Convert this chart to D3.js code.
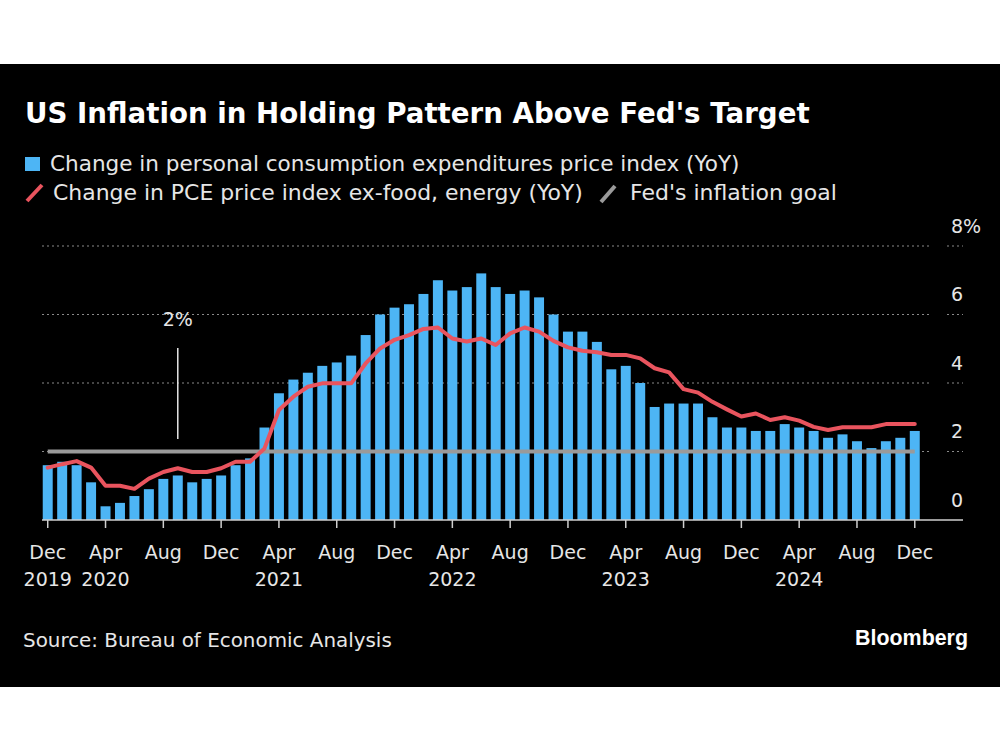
<!DOCTYPE html>
<html>
<head>
<meta charset="utf-8">
<script src="https://cdn.jsdelivr.net/npm/d3@7"></script>
<style>
  body { margin: 0; background: #fff; }
  svg text { font-family: "DejaVu Sans", sans-serif; fill: #e6e6e6; }
</style>
</head>
<body>
<div id="chart"></div>
<script>
// months Dec 2019 .. Dec 2024
var months = d3.timeMonth.range(new Date(2019, 11, 1), new Date(2025, 0, 1));

// headline PCE, YoY %
var pce = [1.6, 1.7, 1.6, 1.1, 0.4, 0.5, 0.7, 0.9, 1.2, 1.3, 1.1, 1.2, 1.3, 1.6, 1.8, 2.7, 3.7, 4.1, 4.3, 4.5, 4.6, 4.8,
           5.4, 6.0, 6.2, 6.3, 6.6, 7.0, 6.7, 6.8, 7.2, 6.8, 6.6, 6.7, 6.5, 6.0, 5.5, 5.5, 5.2, 4.4, 4.5, 4.0, 3.3,
           3.4, 3.4, 3.4, 3.0, 2.7, 2.7, 2.6, 2.6, 2.8, 2.7, 2.6, 2.4, 2.5, 2.3, 2.1, 2.3, 2.4, 2.6];

// core PCE (ex-food, energy), YoY %
var core = [1.53, 1.63, 1.72, 1.53, 1.0, 1.0, 0.91, 1.21, 1.4, 1.51, 1.4, 1.4, 1.51, 1.7, 1.7, 2.09, 3.21, 3.6, 3.89, 3.99, 3.99, 3.99,
            4.57, 5.01, 5.26, 5.4, 5.58, 5.62, 5.3, 5.21, 5.3, 5.11, 5.45, 5.62, 5.5, 5.23, 5.04, 4.94, 4.9, 4.82, 4.82, 4.72, 4.43,
            4.31, 3.82, 3.72, 3.45, 3.23, 3.02, 3.11, 2.92, 3.0, 2.9, 2.72, 2.63, 2.71, 2.71, 2.71, 2.8, 2.8, 2.8];

var fedGoal = 2;
var yTicks = [0, 2, 4, 6, 8];
var xTickEvery = 4;
var annotMonth = 9; // Sep 2020 index, "2%" label

var title = "US Inflation in Holding Pattern Above Fed's Target";
var legendLabels = ["Change in personal consumption expenditures price index (YoY)",
                    "Change in PCE price index ex-food, energy (YoY)",
                    "Fed's inflation goal"];
var source = "Source: Bureau of Economic Analysis";

var BLUE = "#4db5f5", RED = "#e9545e", GREY = "#9a9a9a";

var width = 1000, height = 750;

var svg = d3.select("#chart").append("svg")
    .attr("width", width)
    .attr("height", height);

svg.append("rect")
    .attr("x", 0).attr("y", 64)
    .attr("width", width).attr("height", 623)
    .attr("fill", "#000");

// fit a text element to a target width
function fit(sel, w) {
    var cur = sel.node().getComputedTextLength();
    var fs = parseFloat(sel.attr("font-size"));
    sel.attr("font-size", fs * w / cur);
}

var t = svg.append("text")
    .attr("x", 25).attr("y", 123)
    .attr("font-size", 26)
    .attr("font-weight", "bold")
    .style("fill", "#fff")
    .text(title);
fit(t, 785);

// legend
svg.append("rect")
    .attr("x", 25).attr("y", 157)
    .attr("width", 15).attr("height", 14)
    .attr("fill", BLUE);
var l1 = svg.append("text")
    .attr("x", 50).attr("y", 171)
    .attr("font-size", 20)
    .text(legendLabels[0]);
fit(l1, 690);

svg.append("line")
    .attr("x1", 27).attr("y1", 201).attr("x2", 42).attr("y2", 185)
    .attr("stroke", RED).attr("stroke-width", 4);
var l2 = svg.append("text")
    .attr("x", 53).attr("y", 200)
    .attr("font-size", 20)
    .text(legendLabels[1]);
fit(l2, 530);

svg.append("line")
    .attr("x1", 601).attr("y1", 202).attr("x2", 615).attr("y2", 186)
    .attr("stroke", GREY).attr("stroke-width", 4);
var l3 = svg.append("text")
    .attr("x", 630).attr("y", 200)
    .attr("font-size", 20)
    .text(legendLabels[2]);
fit(l3, 207);

// scales
var x = d3.scaleBand()
    .domain(months)
    .range([40.5, 922])
    .paddingInner(0.31)
    .paddingOuter(0.155);

var y = d3.scaleLinear()
    .domain([0, 8])
    .range([520, 246]);

function cx(d) { return x(d) + x.bandwidth() / 2; }

// gridlines
var grid = svg.append("g");
yTicks.filter(function (d) { return d > 0; }).forEach(function (d) {
    grid.append("line")
        .attr("x1", 42).attr("x2", 932)
        .attr("y1", y(d)).attr("y2", y(d))
        .attr("stroke", "#8a8a8a").attr("stroke-width", 1.2)
        .style("stroke-dasharray", "2,3");
    grid.append("line")
        .attr("x1", 947).attr("x2", 963)
        .attr("y1", y(d)).attr("y2", y(d))
        .attr("stroke", "#8a8a8a").attr("stroke-width", 1.2)
        .style("stroke-dasharray", "2,3");
});

// y labels
var yAxis = d3.axisRight(y)
    .tickValues(yTicks)
    .tickSize(0)
    .tickFormat(function (d) { return d === 8 ? "8%" : d; });

var ya = svg.append("g")
    .attr("transform", "translate(951,0)")
    .call(yAxis);
ya.select(".domain").remove();
ya.selectAll("text")
    .attr("x", 0).attr("dy", -14)
    .attr("font-size", 19)
    .style("font-family", "DejaVu Sans")
    .style("fill", "#e6e6e6")
    .attr("text-anchor", "start");

// bars
svg.append("g").selectAll("rect")
    .data(pce)
    .enter().append("rect")
    .attr("x", function (d, i) { return x(months[i]); })
    .attr("y", function (d) { return y(d); })
    .attr("width", x.bandwidth())
    .attr("height", function (d) { return y(0) - y(d); })
    .attr("fill", BLUE);

// fed goal
svg.append("line")
    .attr("x1", cx(months[0])).attr("x2", cx(months[months.length - 1]))
    .attr("y1", y(fedGoal)).attr("y2", y(fedGoal))
    .attr("stroke", GREY).attr("stroke-width", 4);

// core line
var line = d3.line()
    .x(function (d, i) { return cx(months[i]); })
    .y(function (d) { return y(d); });

svg.append("path")
    .datum(core)
    .attr("fill", "none")
    .attr("stroke", RED)
    .attr("stroke-width", 4)
    .attr("stroke-linejoin", "round")
    .attr("stroke-linecap", "round")
    .attr("d", line);

// annotation
svg.append("text")
    .attr("x", cx(months[annotMonth])).attr("y", 326)
    .attr("text-anchor", "middle")
    .attr("font-size", 19)
    .text("2%");
svg.append("line")
    .attr("x1", cx(months[annotMonth])).attr("x2", cx(months[annotMonth]))
    .attr("y1", 348).attr("y2", 439)
    .attr("stroke", "#e6e6e6").attr("stroke-width", 1.5);

// x axis
svg.append("line")
    .attr("x1", 42).attr("x2", 963)
    .attr("y1", y(0)).attr("y2", y(0))
    .attr("stroke", "#cfcfcf").attr("stroke-width", 1.5);

var fmtM = d3.timeFormat("%b"), fmtY = d3.timeFormat("%Y");
var xAxis = d3.axisBottom(x)
    .tickValues(months.filter(function (d, i) { return i % xTickEvery === 0; }))
    .tickSize(8)
    .tickFormat("");

var xa = svg.append("g")
    .attr("transform", "translate(0," + y(0) + ")")
    .call(xAxis);
xa.select(".domain").remove();
xa.selectAll("line").attr("stroke", "#cfcfcf").attr("stroke-width", 1.5);

xa.selectAll(".tick").each(function (d, i) {
    var tx = d3.select(this).append("text")
        .attr("text-anchor", "middle")
        .attr("font-size", 19)
        .style("fill", "#e6e6e6");
    tx.append("tspan").attr("x", 0).attr("y", 39).text(fmtM(d));
    if (i === 0 || d.getMonth() === 3) {
        tx.append("tspan").attr("x", 0).attr("y", 66).text(fmtY(d));
    }
});

// footer
var s = svg.append("text")
    .attr("x", 23).attr("y", 647)
    .attr("font-size", 19)
    .text(source);
fit(s, 369);

var b = svg.append("text")
    .attr("x", 968).attr("y", 645)
    .attr("text-anchor", "end")
    .attr("font-size", 19)
    .attr("font-weight", "bold")
    .style("fill", "#fff")
    .style("font-family", "Liberation Sans, Arial, sans-serif")
    .text("Bloomberg");
fit(b, 113);
</script>
</body>
</html>
